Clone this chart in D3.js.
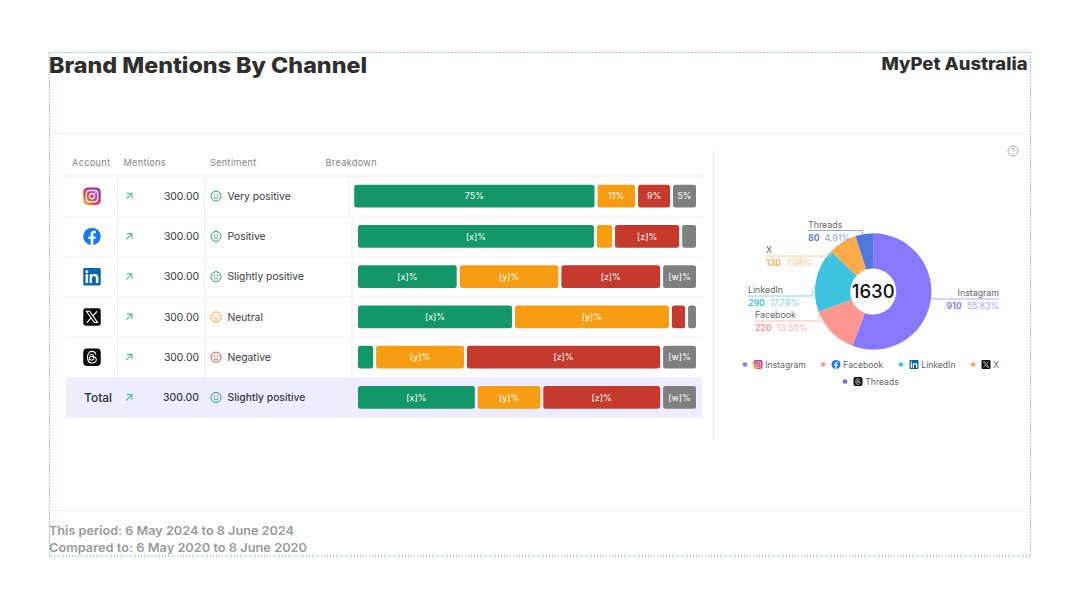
<!DOCTYPE html>
<html><head><meta charset="utf-8">
<script src="https://cdn.jsdelivr.net/npm/d3@7"></script>
<style>
html,body{margin:0;padding:0;background:#fff}
svg{display:block}
text{font-family:Inter,"Noto Sans",sans-serif}
</style></head><body><svg id="c" width="1080" height="606"></svg>
<script>
const title="Brand Mentions By Channel";
const brand="MyPet Australia";
const periods=["This period: 6 May 2024 to 8 June 2024","Compared to: 6 May 2020 to 8 June 2020"];
const headers=["Account","Mentions","Sentiment","Breakdown"];
const accounts=["Instagram","Facebook","LinkedIn","X","Threads","Total"];
const mentions=[300,300,300,300,300,300];
const sentiments=["Very positive","Positive","Slightly positive","Neutral","Negative","Slightly positive"];
const moods=["good","good","good","mid","bad","good"];
const greenShare=[72.2,71.7,30,46.8,4.6,35.5];
const orangeShare=[11.3,4.6,30,46.8,26.7,19];
const redShare=[9.6,19.5,30,4,58.7,35.5];
const grayShare=[6.9,4.2,10,2.4,10,10];
const greenLabels=["75%","[x]%","[x]%","[x]%","","[x]%"];
const orangeLabels=["11%","","[y]%","[y]%","[y]%","[y]%"];
const redLabels=["9%","[z]%","[z]%","","[z]%","[z]%"];
const grayLabels=["5%","","[w]%","","[w]%","[w]%"];
const segColors=["#149768","#F89D11","#C63A2D","#7F7F7F"];
const pieNames=["Instagram","Facebook","LinkedIn","X","Threads"];
const pieValues=[910,220,290,130,80];
const piePcts=["55.83%","13.50%","17.79%","7.98%","4.91%"];
const pieColors=["#8878FF","#FF9690","#3EC3DE","#FFAB4C","#5077E0"];
const pieTotal="1630";

const svg=d3.select("#c");
// frame
svg.append("rect").attr("x",49.5).attr("y",52.5).attr("width",981).attr("height",503.5).attr("fill","none")
  .attr("stroke","#4F94BC").attr("stroke-width",1).attr("stroke-dasharray","1 2");
const hair=(x1,y1,x2,y2,c="#EEEEEE")=>svg.append("line").attr("x1",x1).attr("y1",y1).attr("x2",x2).attr("y2",y2).attr("stroke",c).attr("stroke-width",1);
hair(52,133.5,1025,133.5);
hair(52,510.5,1025,510.5);
hair(713.5,151,713.5,440,"#E8E8E8");

const head=(t,x,y,size,len,fill="#2F2F2F")=>svg.append("text").text(t).attr("x",x).attr("y",y)
  .attr("font-size",size).attr("font-weight",800).attr("fill",fill)
  .attr("textLength",len).attr("lengthAdjust","spacingAndGlyphs");
head(title,49,73,22,318);
head(brand,881.5,69.5,17,146);
periods.forEach((p,i)=>{
  svg.append("text").text(p).attr("x",49).attr("y",[534.5,552][i]).attr("font-size",12).attr("font-weight",600)
    .attr("fill","#9A9A9A").attr("textLength",[245,258][i]).attr("lengthAdjust","spacingAndGlyphs");
});

// help icon
const help=svg.append("g").attr("transform","translate(1013,151)");
help.append("circle").attr("r",5).attr("fill","none").attr("stroke","#AAAAAA");
help.append("text").text("?").attr("text-anchor","middle").attr("y",2.8).attr("font-size",7.5).attr("fill","#999");

// table
const y=d3.scaleBand().domain(accounts).range([176,417.6]).paddingInner(0);
const rowC=a=>y(a)+y.bandwidth()/2;
svg.append("rect").attr("x",66).attr("y",y("Total")).attr("width",636).attr("height",y.bandwidth()).attr("fill","#EEEDFD");
[72,123.5,210,325.5].forEach((x,i)=>svg.append("text").text(headers[i]).attr("x",x).attr("y",166.4)
    .attr("font-size",9.2).attr("letter-spacing",0.3).attr("fill","#858585"));
hair(66,176,702,176);
accounts.slice(1,5).forEach(a=>hair(66,y(a),702,y(a),"#F5F5F5"));
hair(117.5,176,117.5,418,"#EDEDEE");
hair(204.5,176,204.5,418,"#EDEDEE");
hair(349,176,349,216,"#EDEDEE");
hair(352,216,352,418,"#EDEDEE");

function icon(g,name,s){
  const k=s/18;
  const b=g.append("g").attr("transform",`scale(${k})`);
  if(name==="Instagram"){
    const id="ig"+(icon.n=(icon.n||0)+1);
    const gr=svg.append("defs").append("linearGradient").attr("id",id).attr("x1",0).attr("y1",1).attr("x2",1).attr("y2",0);
    [["0%","#FDC830"],["35%","#F4442E"],["65%","#C6279F"],["100%","#5B4BD6"]].forEach(d=>gr.append("stop").attr("offset",d[0]).attr("stop-color",d[1]));
    b.append("rect").attr("x",-9).attr("y",-9).attr("width",18).attr("height",18).attr("rx",4.5).attr("fill",`url(#${id})`);
    b.append("rect").attr("x",-5.8).attr("y",-5.8).attr("width",11.6).attr("height",11.6).attr("rx",3.2).attr("fill","none").attr("stroke","#fff").attr("stroke-width",1.4);
    b.append("circle").attr("r",2.7).attr("fill","none").attr("stroke","#fff").attr("stroke-width",1.4);
    b.append("circle").attr("cx",3.3).attr("cy",-3.3).attr("r",.8).attr("fill","#fff");
  } else if(name==="Facebook"){
    b.append("circle").attr("r",9).attr("fill","#1877F2");
    b.append("path").attr("d","M-1.5 9V2.6H-3.8V0H-1.5V-2C-1.5-4.4 0-5.7 2-5.7C3-5.7 3.9-5.5 3.9-5.5V-3.3H2.8C1.6-3.3 1.3-2.6 1.3-1.9V0H3.8L3.4 2.6H1.3V9Z").attr("fill","#fff");
  } else if(name==="LinkedIn"){
    b.append("rect").attr("x",-9).attr("y",-9).attr("width",18).attr("height",18).attr("rx",1.5).attr("fill","#0A66A8");
    b.append("rect").attr("x",-6.6).attr("y",-2.6).attr("width",2.6).attr("height",9).attr("fill","#fff");
    b.append("circle").attr("cx",-5.3).attr("cy",-5).attr("r",1.5).attr("fill","#fff");
    b.append("path").attr("d","M-2.4 6.4V-2.6H0V-1.4C.6-2.3 1.6-2.8 2.8-2.8C5.4-2.8 6.6-1.2 6.6 1.4V6.4H4V1.9C4 .6 3.5-.6 2.1-.6C.8-.6 0 .4 0 1.9V6.4Z").attr("fill","#fff");
  } else if(name==="X"){
    b.append("rect").attr("x",-9).attr("y",-9).attr("width",18).attr("height",18).attr("rx",2.5).attr("fill","#0B0B0B");
    b.append("path").attr("d","M-5.8-5.8H-2.4L5.8 5.8H2.4Z").attr("fill","none").attr("stroke","#fff").attr("stroke-width",1.1);
    b.append("path").attr("d","M5.2-5.8L.7-.8M-.9 1L-5.3 5.8").attr("fill","none").attr("stroke","#fff").attr("stroke-width",1.2);
  } else {
    b.append("rect").attr("x",-9).attr("y",-9).attr("width",18).attr("height",18).attr("rx",4).attr("fill","#0B0B0B");
    b.append("path").attr("d","M4-2.6C3.6-5 2-6 0-6C-3-6-4.6-3.6-4.6 0C-4.6 3.6-3 6 0 6C2.6 6 4.4 4.6 4.4 2.6C4.4 .4 2.4-.8-.2-.8C-1.9-.8-2.8 0-2.8 1.1C-2.8 2.2-1.8 2.9-.6 2.9C1 2.9 1.9 1.8 1.9 .2C1.9-1.6 1-2.8-.6-2.8C-1.4-2.8-2-2.5-2.5-2").attr("fill","none").attr("stroke","#fff").attr("stroke-width",1.1);
  }
}
function smile(g,m){
  const c={good:"#2E9E76",mid:"#E8A93C",bad:"#D9534A"}[m];
  g.append("circle").attr("r",5).attr("fill","none").attr("stroke",c).attr("stroke-width",1);
  g.selectAll("circle.e").data([-1.7,1.7]).join("circle").attr("class","e").attr("cx",d=>d).attr("cy",-1.2).attr("r",.7).attr("fill",c);
  g.append("path").attr("fill","none").attr("stroke",c).attr("stroke-width",.9)
    .attr("d",m==="good"?"M-2.3 1.2Q0 3.6 2.3 1.2":m==="mid"?"M-2.2 1.9H2.2":"M-2.3 2.6Q0 .4 2.3 2.6");
}
accounts.forEach((a,i)=>{
  const c=rowC(a);
  if(a==="Total"){
    svg.append("text").text("Total").attr("x",84).attr("y",c+4.2).attr("font-size",12).attr("font-weight",500).attr("fill","#2F2F33");
  } else {
    icon(svg.append("g").attr("transform",`translate(92,${c})`),a,17.5);
  }
  const ar=svg.append("g").attr("transform",`translate(129,${c})`);
  ar.append("path").attr("d","M-2.8 3L2.8-2.8M-2-2.8H2.8V2").attr("fill","none").attr("stroke","#5CBB9C").attr("stroke-width",1.2);
  svg.append("text").text(d3.format(".2f")(mentions[i])).attr("x",199).attr("y",c+3.7).attr("text-anchor","end")
    .attr("font-size",10.4).attr("font-weight",a==="Total"?500:400).attr("fill","#3A3A3E");
  smile(svg.append("g").attr("transform",`translate(216,${c})`),moods[i]);
  svg.append("text").text(sentiments[i]).attr("x",227.5).attr("y",c+3.7).attr("font-size",10.3)
    .attr("font-weight",a==="Total"?500:400).attr("fill","#3A3A3E");
  // breakdown
  const vals=[greenShare[i],orangeShare[i],redShare[i],grayShare[i]];
  const labs=[greenLabels[i],orangeLabels[i],redLabels[i],grayLabels[i]];
  const start=i===0?354.2:358, end=696, gap=3;
  const x=d3.scaleLinear().domain([0,d3.sum(vals)]).range([0,end-start-gap*3]);
  let cum=0;
  vals.forEach((v,j)=>{
    const X=start+x(cum)+j*gap, W=x(v);
    svg.append("rect").attr("x",X).attr("y",c-11.4).attr("width",W).attr("height",22.8).attr("rx",2.5).attr("fill",segColors[j]);
    if(labs[j]) svg.append("text").text(labs[j]).attr("x",X+W/2).attr("y",c+3.2).attr("text-anchor","middle")
      .attr("font-size",8.8).attr("font-weight",500).attr("fill","#fff").attr("fill-opacity",.92);
    cum+=v;
  });
});

// donut
const cx=873.2,cy=291.5,R=58.2,r0=23;
const pie=d3.pie().sort(null)(pieValues);
const arc=d3.arc().innerRadius(r0).outerRadius(R);
const gp=svg.append("g").attr("transform",`translate(${cx},${cy})`);
gp.selectAll("path").data(pie).join("path").attr("d",arc).attr("fill",(d,i)=>pieColors[i]);
svg.append("text").text(pieTotal).attr("x",cx).attr("y",cy+6.6).attr("text-anchor","middle").attr("font-size",18.5).attr("font-weight",500).attr("fill","#111");

const labelLayout=[
 {x:999,a:"end",ln:299,x0:933,deg:96.4},
 {x:755,a:"start",ln:321,x0:820,deg:249},
 {x:748,a:"start",ln:296,x0:811.7,deg:276.4},
 {x:766,a:"start",ln:256,x0:830,deg:315},
 {x:808,a:"start",ln:230.5,x0:862,deg:349.5}];
const fade=(c,k)=>d3.interpolateRgb(c,"#fff")(k);
pie.forEach((d,i)=>{
  const L=labelLayout[i], c=pieColors[i];
  const ang=L.deg*Math.PI/180;
  const ax=cx+R*Math.sin(ang), ay=cy-R*Math.cos(ang);
  const g=svg.append("g");
  g.append("polyline").attr("points",`${ax},${ay} ${L.x0},${L.ln} ${L.x},${L.ln}`)
    .attr("fill","none").attr("stroke",fade(c,.35)).attr("stroke-width",1);
  g.append("text").text(pieNames[i]).attr("x",L.x).attr("y",L.ln-2.6).attr("text-anchor",L.a)
    .attr("font-size",8.8).attr("fill","#666");
  const t=g.append("text").attr("x",L.x).attr("y",L.ln+10).attr("text-anchor",L.a).attr("font-size",8.8);
  t.append("tspan").text(d3.format("d")(pieValues[i])).attr("fill",c).attr("font-weight",600);
  t.append("tspan").text(piePcts[i]).attr("dx",5).attr("fill",fade(c,.3));
});
// legend
const legendLayout=[[745,364.5],[823,364.5],[901,364.5],[973,364.5],[845,381.5]];
pieNames.forEach((n,i)=>{
  const [lx,ly]=legendLayout[i];
  svg.append("circle").attr("cx",lx).attr("cy",ly).attr("r",2.3).attr("fill",pieColors[i]);
  icon(svg.append("g").attr("transform",`translate(${lx+13},${ly})`),n,9);
  svg.append("text").text(n).attr("x",lx+20.3).attr("y",ly+3.2).attr("font-size",8.6).attr("fill","#666");
});
</script></body></html>
